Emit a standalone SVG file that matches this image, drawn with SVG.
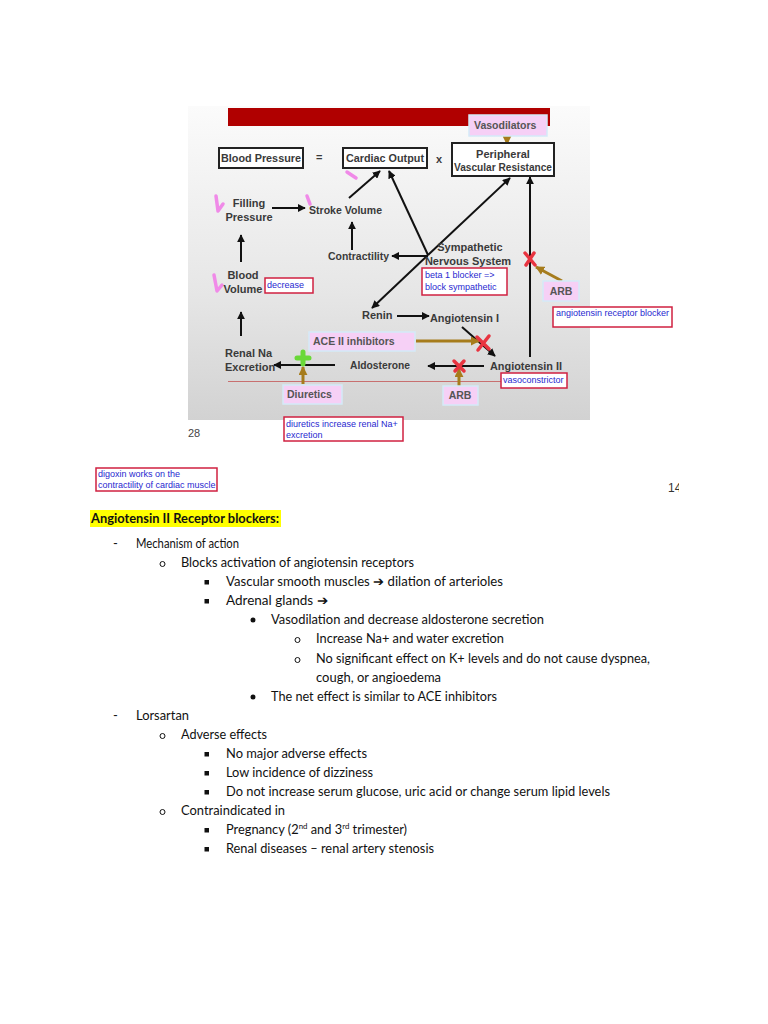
<svg xmlns="http://www.w3.org/2000/svg" width="768" height="1024" viewBox="0 0 768 1024">
<defs>
<linearGradient id="bg" x1="0" y1="0" x2="0" y2="1">
<stop offset="0" stop-color="#fbfbfb"/>
<stop offset="0.6" stop-color="#e6e6e6"/>
<stop offset="1" stop-color="#d2d2d2"/>
</linearGradient>
<marker id="ah" viewBox="0 0 10 10" refX="9" refY="5" markerWidth="8" markerHeight="8" markerUnits="userSpaceOnUse" orient="auto">
<path d="M0,0 L10,5 L0,10 z" fill="#111"/>
</marker>
<marker id="bh" viewBox="0 0 10 10" refX="9" refY="5" markerWidth="9" markerHeight="9" markerUnits="userSpaceOnUse" orient="auto">
<path d="M0,0 L10,5 L0,10 z" fill="#a67c1c"/>
</marker>
<style>
.n{font-family:"Liberation Sans",Arial,sans-serif;font-size:11px;font-weight:bold;fill:#3a3a3a}
.box{fill:#fff;stroke:#222;stroke-width:2}
.ann{fill:#fff;stroke:#d02040;stroke-width:1.5}
.at{font-family:"Liberation Sans",Arial,sans-serif;font-size:9px;fill:#2828d0}
.pk{fill:#f6d0f6;stroke:#d4eaf8;stroke-width:1.5}
.pt{font-family:"Liberation Sans",Arial,sans-serif;font-size:10.5px;font-weight:bold;fill:#555}
.a{stroke:#111;stroke-width:2;fill:none;marker-end:url(#ah)}
.b{stroke:#a67c1c;stroke-width:3;fill:none;marker-end:url(#bh)}
.x{stroke:#e83440;stroke-width:3.5;stroke-linecap:round;fill:none}
.pa{stroke:#f08ae8;stroke-width:3.5;stroke-linecap:round;stroke-linejoin:round;fill:none}
.t{font-family:Lato,"Open Sans",sans-serif;font-size:13px;fill:#111}
.tb{font-family:Lato,"Open Sans",sans-serif;font-size:13px;fill:#111;font-weight:bold}
.sq{fill:#111}
.ci{fill:none;stroke:#111;stroke-width:1}
</style>
<clipPath id="pg"><rect x="0" y="0" width="679" height="1024"/></clipPath>
</defs>
<rect width="768" height="1024" fill="#fff"/>

<g id="slide">
<rect x="188" y="106" width="402" height="314" fill="url(#bg)"/>
<rect x="228" y="108" width="322" height="18" fill="#b00000"/>
<line x1="228" y1="381.5" x2="501" y2="381.5" stroke="#c87070" stroke-width="1.2"/>
<text x="188" y="437" font-family="'Liberation Sans',Arial,sans-serif" font-size="11" fill="#444">28</text>
</g>

<g id="connectors">
<path class="a" d="M272,208 L305,208"/>
<path class="a" d="M349,198 L380,171"/>
<path class="a" d="M428,255 L389,171"/>
<path class="a" d="M428,255 L510,178"/>
<path class="a" d="M428,255 L372,308"/>
<path class="a" d="M428,256 L392,256"/>
<path class="a" d="M352,250 L352,222"/>
<path class="a" d="M241,262 L241,235"/>
<path class="a" d="M241,336 L241,312"/>
<path class="a" d="M397,316 L429,316"/>
<path class="a" d="M462,327 L495,356"/>
<path class="a" d="M530,357 L530,177"/>
<path class="a" d="M484,366 L428,366"/>
<path class="a" d="M335,365 L274,365"/>
<path class="b" d="M507,136 L507,144"/>
<path class="b" d="M562,281 L536,267"/>
<path class="b" d="M416,341 L479,341"/>
<path class="b" d="M459,386 L459,369"/>
<path class="b" d="M303,384 L303,367"/>
</g>

<g id="marks">
<path class="x" d="M525,253 L535,265 M534,253 L526,265"/>
<path class="x" d="M477,337 L489,349 M489,336 L478,350"/>
<path class="x" d="M454,361 L464,371 M464,361 L455,371"/>
<path d="M303,352 L303,364 M297,358 L309,358" stroke="#6ad838" stroke-width="5" stroke-linecap="round"/>
<path class="pa" d="M216,196 L218,211 L223,204"/>
<path class="pa" d="M307,196 L310,204"/>
<path class="pa" d="M347,172 L356,178"/>
<path class="pa" d="M214,275 L217,291 L222,285"/>
</g>

<g id="blood-pressure"><rect class="box" x="219" y="148" width="84" height="20"/><text class="n" x="221" y="162" textLength="80" lengthAdjust="spacingAndGlyphs">Blood Pressure</text></g>
<g id="equals"><text class="n" x="316" y="161">=</text></g>
<g id="cardiac-output"><rect class="box" x="343" y="148" width="84" height="20"/><text class="n" x="346" y="162" textLength="78" lengthAdjust="spacingAndGlyphs">Cardiac Output</text></g>
<g id="times"><text class="n" x="436" y="163">x</text></g>
<g id="pvr"><rect class="box" x="452" y="143" width="102" height="33"/><text class="n" x="503" y="158" text-anchor="middle">Peripheral</text><text class="n" x="503" y="171" text-anchor="middle" textLength="98" lengthAdjust="spacingAndGlyphs">Vascular Resistance</text></g>
<g id="vasodilators"><rect class="pk" x="469" y="115" width="78" height="21"/><text class="pt" x="474" y="129">Vasodilators</text></g>
<g id="filling-pressure"><text class="n" x="249" y="207" text-anchor="middle">Filling</text><text class="n" x="249" y="221" text-anchor="middle">Pressure</text></g>
<g id="stroke-volume"><text class="n" x="309" y="214" textLength="73" lengthAdjust="spacingAndGlyphs">Stroke Volume</text></g>
<g id="contractility"><text class="n" x="328" y="260" textLength="61" lengthAdjust="spacingAndGlyphs">Contractility</text></g>
<g id="sns"><text class="n" x="470" y="251" text-anchor="middle">Sympathetic</text><text class="n" x="468" y="265" text-anchor="middle">Nervous System</text></g>
<g id="beta-blocker"><rect class="ann" x="422" y="268" width="85" height="27"/><text class="at" x="425" y="278">beta 1 blocker =&gt;</text><text class="at" x="425" y="290">block sympathetic</text></g>
<g id="arb-top"><rect class="pk" x="543" y="281" width="36" height="20"/><text class="pt" x="561" y="295" text-anchor="middle">ARB</text></g>
<g id="arb-note"><rect class="ann" x="553" y="307" width="119" height="20"/><text class="at" x="556" y="316">angiotensin receptor blocker</text></g>
<g id="blood-volume"><text class="n" x="243" y="279" text-anchor="middle">Blood</text><text class="n" x="243" y="293" text-anchor="middle">Volume</text></g>
<g id="decrease"><rect class="ann" x="265" y="278" width="48" height="15"/><text class="at" x="267" y="288">decrease</text></g>
<g id="renin"><text class="n" x="362" y="319">Renin</text></g>
<g id="angiotensin-1"><text class="n" x="430" y="322" textLength="69" lengthAdjust="spacingAndGlyphs">Angiotensin I</text></g>
<g id="ace-inhibitors"><rect class="pk" x="309" y="332" width="106" height="19"/><text class="pt" x="313" y="345">ACE II inhibitors</text></g>
<g id="angiotensin-2"><text class="n" x="490" y="370" textLength="72" lengthAdjust="spacingAndGlyphs">Angiotensin II</text></g>
<g id="vasoconstrictor"><rect class="ann" x="501" y="373" width="66" height="15"/><text class="at" x="503" y="383">vasoconstrictor</text></g>
<g id="aldosterone"><text class="n" x="350" y="369" textLength="60" lengthAdjust="spacingAndGlyphs">Aldosterone</text></g>
<g id="renal-na"><text class="n" x="225" y="357">Renal Na</text><text class="n" x="225" y="371">Excretion</text></g>
<g id="diuretics"><rect class="pk" x="283" y="385" width="59" height="19"/><text class="pt" x="287" y="398">Diuretics</text></g>
<g id="arb-bottom"><rect class="pk" x="443" y="386" width="35" height="19"/><text class="pt" x="460" y="399" text-anchor="middle">ARB</text></g>
<g id="diuretics-note"><rect class="ann" x="284" y="417" width="119" height="24"/><text class="at" x="286" y="427">diuretics increase renal Na+</text><text class="at" x="286" y="438">excretion</text></g>

<g id="digoxin-note"><rect class="ann" x="96" y="468" width="121" height="23"/><text class="at" x="98" y="477">digoxin works on the</text><text class="at" x="98" y="488">contractility of cardiac muscle</text></g>
<text clip-path="url(#pg)" x="668" y="492" font-family="'Liberation Sans',Arial,sans-serif" font-size="12" fill="#333">14</text>

<g id="notes">
<rect x="90" y="510" width="191" height="17" fill="#ffff00"/>
<text class="tb" x="91" y="523" textLength="188" lengthAdjust="spacingAndGlyphs">Angiotensin II Receptor blockers:</text>

<text class="t" x="113" y="548">-</text>
<text class="t" x="136" y="548" textLength="103" lengthAdjust="spacingAndGlyphs">Mechanism of action</text>
<circle class="ci" cx="162.5" cy="564" r="2.5"/>
<text class="t" x="181" y="567" textLength="233" lengthAdjust="spacingAndGlyphs">Blocks activation of angiotensin receptors</text>
<rect class="sq" x="204.5" y="580" width="4.5" height="4.5"/>
<text class="t" x="226" y="586" textLength="277" lengthAdjust="spacingAndGlyphs">Vascular smooth muscles ➔ dilation of arterioles</text>
<rect class="sq" x="204.5" y="599" width="4.5" height="4.5"/>
<text class="t" x="226" y="605" textLength="102" lengthAdjust="spacingAndGlyphs">Adrenal glands ➔</text>
<circle cx="253" cy="620" r="2.5" fill="#111"/>
<text class="t" x="271" y="624" textLength="273" lengthAdjust="spacingAndGlyphs">Vasodilation and decrease aldosterone secretion</text>
<circle class="ci" cx="297.5" cy="640" r="2.5"/>
<text class="t" x="316" y="643" textLength="188" lengthAdjust="spacingAndGlyphs">Increase Na+ and water excretion</text>
<circle class="ci" cx="297.5" cy="660" r="2.5"/>
<text class="t" x="316" y="663" textLength="334" lengthAdjust="spacingAndGlyphs">No significant effect on K+ levels and do not cause dyspnea,</text>
<text class="t" x="316" y="682" textLength="125" lengthAdjust="spacingAndGlyphs">cough, or angioedema</text>
<circle cx="253" cy="697" r="2.5" fill="#111"/>
<text class="t" x="271" y="701" textLength="226" lengthAdjust="spacingAndGlyphs">The net effect is similar to ACE inhibitors</text>

<text class="t" x="113" y="720">-</text>
<text class="t" x="136" y="720" textLength="53" lengthAdjust="spacingAndGlyphs">Lorsartan</text>
<circle class="ci" cx="162.5" cy="736" r="2.5"/>
<text class="t" x="181" y="739" textLength="86" lengthAdjust="spacingAndGlyphs">Adverse effects</text>
<rect class="sq" x="204.5" y="752" width="4.5" height="4.5"/>
<text class="t" x="226" y="758" textLength="141" lengthAdjust="spacingAndGlyphs">No major adverse effects</text>
<rect class="sq" x="204.5" y="771" width="4.5" height="4.5"/>
<text class="t" x="226" y="777" textLength="147" lengthAdjust="spacingAndGlyphs">Low incidence of dizziness</text>
<rect class="sq" x="204.5" y="790" width="4.5" height="4.5"/>
<text class="t" x="226" y="796" textLength="384" lengthAdjust="spacingAndGlyphs">Do not increase serum glucose, uric acid or change serum lipid levels</text>
<circle class="ci" cx="162.5" cy="812" r="2.5"/>
<text class="t" x="181" y="815" textLength="104" lengthAdjust="spacingAndGlyphs">Contraindicated in</text>
<rect class="sq" x="204.5" y="828" width="4.5" height="4.5"/>
<text class="t" x="226" y="834" textLength="181" lengthAdjust="spacingAndGlyphs">Pregnancy (2<tspan font-size="8" dy="-5">nd</tspan><tspan dy="5"> and 3</tspan><tspan font-size="8" dy="-5">rd</tspan><tspan dy="5"> trimester)</tspan></text>
<rect class="sq" x="204.5" y="847" width="4.5" height="4.5"/>
<text class="t" x="226" y="853" textLength="208" lengthAdjust="spacingAndGlyphs">Renal diseases – renal artery stenosis</text>
</g>
</svg>
